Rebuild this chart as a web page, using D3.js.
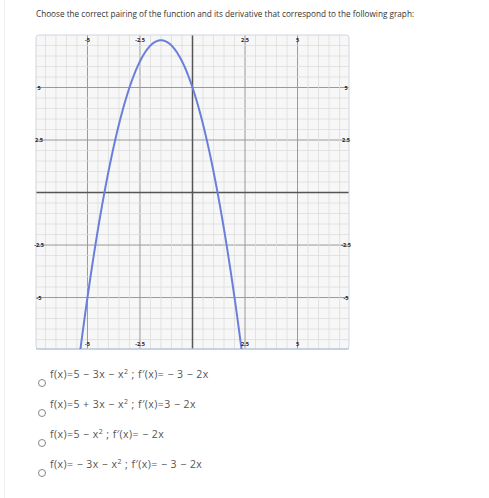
<!DOCTYPE html><html><head><meta charset="utf-8"><script src="https://cdn.jsdelivr.net/npm/d3@7"></script>
<style>body{margin:0;background:#fff;font-family:"Open Sans",sans-serif}</style></head><body><svg id="c" width="489" height="498"></svg>
<script>
const coeffs=[5,-3,-1]; // f(x)=5-3x-x^2
const xTicks=[-5,-2.5,2.5,5];
const yTicks=[5,2.5,-2.5,-5];
const options=[
 ["f(x)=5 − 3x − x","2","; f′(x)= − 3 − 2x"],
 ["f(x)=5 + 3x − x","2","; f′(x)=3 − 2x"],
 ["f(x)=5 − x","2","; f′(x)= − 2x"],
 ["f(x)= − 3x − x","2","; f′(x)= − 3 − 2x"]];
const svg=d3.select("#c");
svg.append("line").attr("x1",4.5).attr("x2",4.5).attr("y1",0).attr("y2",498).attr("stroke","#eee");
svg.append("text").attr("x",36).attr("y",17).attr("font-size",8.2).attr("fill","#333").text("Choose the correct pairing of the function and its derivative that correspond to the following graph:");
const L=36,R=349,T=35,B=349;
const x=d3.scaleLinear().domain([-7.45,7.45]).range([L,R]);
const y=d3.scaleLinear().domain([7.5,-7.45]).range([T,B]);
const g=svg.append("g");
g.append("rect").attr("x",L).attr("y",T).attr("width",R-L).attr("height",B-T).attr("fill","#f7f7f7");
const minor=d3.range(-7,7.01,0.5);
minor.forEach(v=>{
 const major=Math.abs(v%2.5)<1e-6;
 const col=major?"#999":"#ddd";
 g.append("line").attr("x1",x(v)).attr("x2",x(v)).attr("y1",T).attr("y2",B).attr("stroke",col).attr("stroke-width",major?1:0.8);
 g.append("line").attr("y1",y(v)).attr("y2",y(v)).attr("x1",L).attr("x2",R).attr("stroke",col).attr("stroke-width",major?1:0.8);
});
g.append("line").attr("x1",x(0)).attr("x2",x(0)).attr("y1",T).attr("y2",B).attr("stroke","#555").attr("stroke-width",1.5);
g.append("line").attr("y1",y(0)).attr("y2",y(0)).attr("x1",L).attr("x2",R).attr("stroke","#555").attr("stroke-width",1.5);
svg.append("rect").attr("x",L).attr("y",T).attr("width",R-L).attr("height",B-T).attr("rx",3).attr("fill","none").attr("stroke","#cfd6e0");
svg.append("line").attr("x1",L).attr("x2",R).attr("y1",B).attr("y2",B).attr("stroke","#a9bcd6").attr("stroke-width",1.2);
svg.append("clipPath").attr("id","cp").append("rect").attr("x",L).attr("y",T).attr("width",R-L).attr("height",B-T);
const f=t=>coeffs[0]+coeffs[1]*t+coeffs[2]*t*t;
const pts=d3.range(-8,5,0.05).map(t=>[t,f(t)]);
svg.append("path").attr("clip-path","url(#cp)").attr("d",d3.line().x(d=>x(d[0])).y(d=>y(d[1]))(pts)).attr("fill","none").attr("stroke","#6a7fdc").attr("stroke-width",2);
const lab=svg.append("g").attr("font-size",5.5).attr("font-weight","bold").attr("fill","#222").attr("text-anchor","middle");
xTicks.forEach(v=>{lab.append("text").attr("x",x(v)).attr("y",42).text(v);lab.append("text").attr("x",x(v)).attr("y",346).text(v);});
yTicks.forEach(v=>{lab.append("text").attr("x",39).attr("y",y(v)+2).text(v);lab.append("text").attr("x",346).attr("y",y(v)+2).text(v);});
options.forEach((o,i)=>{
 const yy=378+i*30;
 svg.append("circle").attr("cx",42).attr("cy",yy+5).attr("r",3.5).attr("fill","#fff").attr("stroke","#888");
 const t=svg.append("text").attr("x",50).attr("y",yy).attr("font-size",10.5).attr("letter-spacing",0.45).attr("fill","#555");
 t.append("tspan").text(o[0]);
 t.append("tspan").attr("dy",-4).attr("font-size",7).text(o[1]);
 t.append("tspan").attr("dy",4).text(" "+o[2]);
});
</script></body></html>
